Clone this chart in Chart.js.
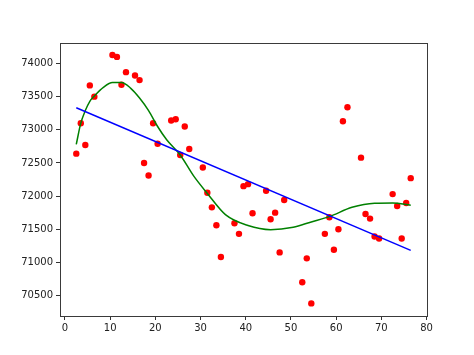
<!DOCTYPE html>
<html>
<head>
<meta charset="utf-8">
<script src="https://cdn.jsdelivr.net/npm/chart.js@4/dist/chart.umd.min.js"></script>
<style>
html,body{margin:0;padding:0;background:#fff;}
#c{display:block;}
</style>
</head>
<body>
<canvas id="c" width="474" height="355"></canvas>
<script>
// Scatter observations
const pointX = [2.5,3.5,4.5,5.5,6.5,10.5,11.5,12.5,13.5,15.5,16.5,17.5,18.5,19.5,20.5,23.5,24.5,25.5,26.5,27.5,30.5,31.5,32.5,33.5,34.5,37.5,38.5,39.5,40.5,41.5,44.5,45.5,46.5,47.5,48.5,52.5,53.5,54.5,57.5,58.5,59.5,60.5,61.5,62.5,65.5,66.5,67.5,68.5,69.5,72.5,73.5,74.5,75.5,76.5];
const pointY = [72640,73100,72770,73670,73500,74130,74100,73680,73870,73820,73750,72500,72310,73100,72790,73140,73160,72620,73050,72710,72430,72050,71830,71560,71080,71590,71430,72150,72180,71740,72080,71650,71750,71150,71940,70700,71060,70380,71430,71680,71190,71500,73130,73340,72580,71730,71660,71390,71360,72030,71850,71360,71895,72270];
// Linear fit (blue)
const linearX = [2.5, 76.5];
const linearY = [73332, 71180];
// Polynomial fit (green)
const polyX = [2.5,3.5,4.5,5.5,6.5,8.5,10.5,12.5,14.5,16.5,18.5,20.5,22.5,25.5,28.5,31.5,35.5,40.5,45.5,50.5,54.5,58.5,63.5,68.5,72.5,76.5];
const polyY = [72780,73100,73290,73430,73510,73640,73712,73712,73630,73480,73290,73050,72850,72620,72300,72040,71720,71555,71493,71530,71610,71690,71830,71893,71897,71860];
// Axis ticks
const xTicks = [0,10,20,30,40,50,60,70,80];
const yTicks = [70500,71000,71500,72000,72500,73000,73500,74000];

const toXY = (xs, ys) => xs.map((x,i)=>({x:x, y:ys[i]}));

const frame = {
  id:'frame',
  afterDraw(chart){
    const a = chart.chartArea, ctx = chart.ctx;
    ctx.save();
    ctx.strokeStyle = '#3a3a3a';
    ctx.lineWidth = 1;
    ctx.strokeRect(Math.round(a.left)+0.5, Math.round(a.top)+0.5, Math.round(a.right-a.left), Math.round(a.bottom-a.top));
    ctx.restore();
  }
};

const tickFont = {family:'DejaVu Sans', size:10};

new Chart(document.getElementById('c'), {
  type:'scatter',
  data:{
    datasets:[
      {data: toXY(linearX, linearY), showLine:true, borderColor:'#0000ff', borderWidth:1.5, pointRadius:0, fill:false},
      {data: toXY(polyX, polyY), showLine:true, borderColor:'#008000', borderWidth:1.5, pointRadius:0, cubicInterpolationMode:'monotone', fill:false},
      {data: toXY(pointX, pointY), backgroundColor:'#ff0000', borderColor:'#ff0000', pointRadius:3.2, borderWidth:0}
    ]
  },
  options:{
    responsive:false,
    animation:false,
    devicePixelRatio:1,
    layout:{padding:{left:0, top:43, right:47, bottom:0}},
    plugins:{legend:{display:false}, tooltip:{enabled:false}},
    scales:{
      x:{
        type:'linear', min:-1.1, max:80.1,
        afterBuildTicks(s){ s.ticks = xTicks.map(v=>({value:v})); },
        afterFit(s){ s.height = 39; },
        grid:{display:true, drawOnChartArea:false, drawTicks:true, tickLength:4, tickColor:'#333', tickWidth:1},
        border:{display:false},
        ticks:{font:tickFont, color:'#222', padding:2, maxRotation:0, callback:v=>String(v)}
      },
      y:{
        type:'linear', min:70190, max:74310,
        afterBuildTicks(s){ s.ticks = yTicks.map(v=>({value:v})); },
        afterFit(s){ s.width = 60; },
        grid:{display:true, drawOnChartArea:false, drawTicks:true, tickLength:4, tickColor:'#333', tickWidth:1},
        border:{display:false},
        ticks:{font:tickFont, color:'#222', padding:3, callback:v=>String(v)}
      }
    }
  },
  plugins:[frame]
});
</script>
</body>
</html>
